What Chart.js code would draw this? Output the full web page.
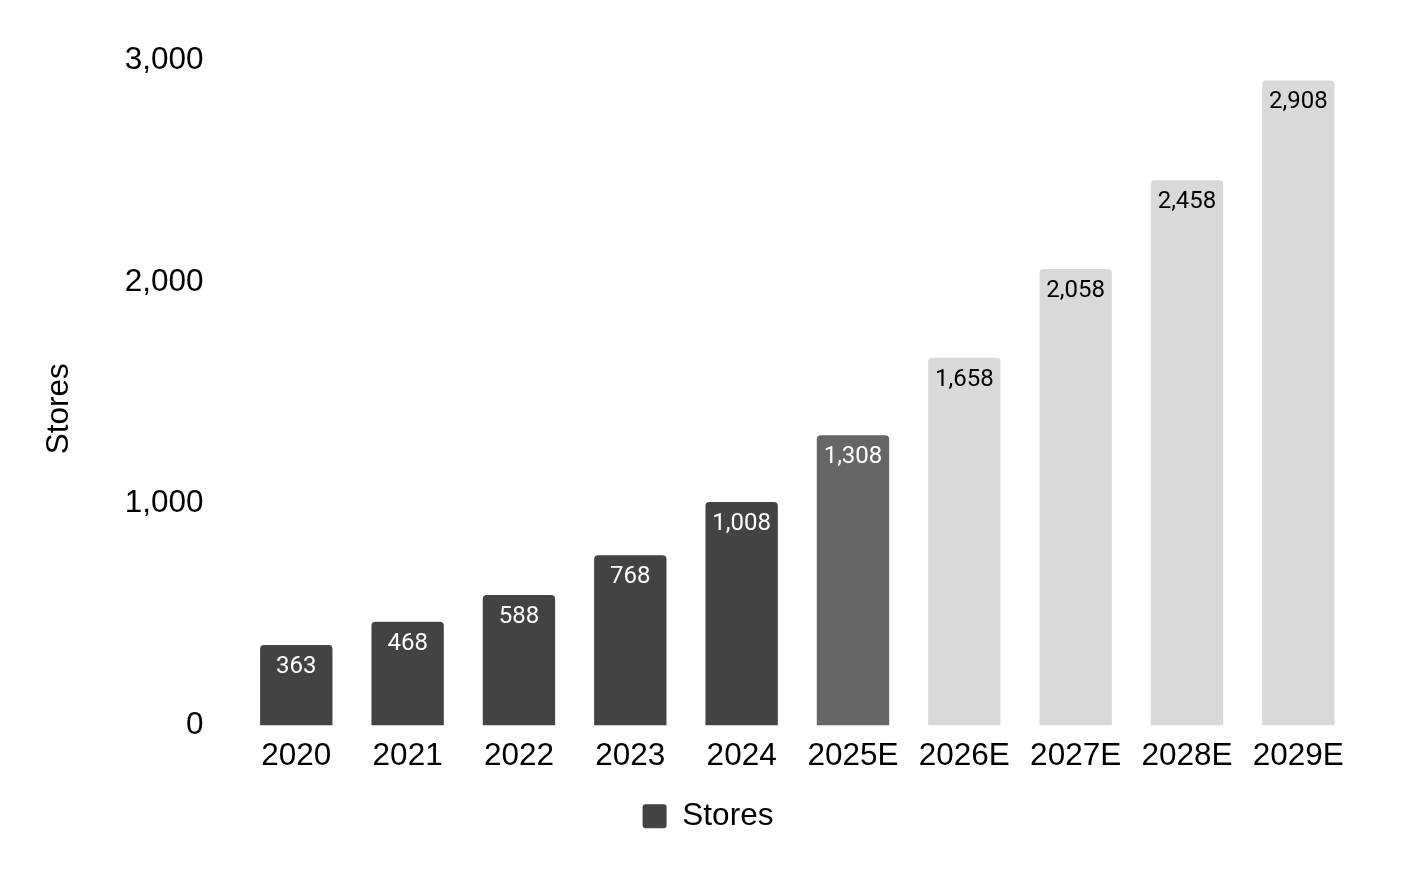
<!DOCTYPE html>
<html>
<head>
<meta charset="utf-8">
<script src="https://cdn.jsdelivr.net/npm/chart.js@4.4.1/dist/chart.umd.min.js"></script>
<style>
  html, body { margin: 0; padding: 0; background: #fff; }
  #wrap { width: 1418px; height: 876px; }
</style>
</head>
<body>
<div id="wrap"><canvas id="storesChart" width="1418" height="876"></canvas></div>
<script>
// Data
const years = ['2020', '2021', '2022', '2023', '2024', '2025E', '2026E', '2027E', '2028E', '2029E'];
const stores = [363, 468, 588, 768, 1008, 1308, 1658, 2058, 2458, 2908];
const yTicks = [0, 1000, 2000, 3000];
const yTitle = 'Stores';

// actual / current-year estimate / forecast
const barColors = years.map(function(y, i) {
    if (i < 5) return '#434343';
    if (i === 5) return '#666666';
    return '#d9d9d9';
});
const labelColors = years.map(function(y, i) { return i < 6 ? '#ffffff' : '#000000'; });

const fmt = new Intl.NumberFormat('en-US');

// simple value labels inside the top of each bar
const barLabels = {
    id: 'barLabels',
    afterDatasetsDraw(chart) {
        const ctx = chart.ctx;
        const meta = chart.getDatasetMeta(0);
        ctx.save();
        ctx.font = '24px Roboto';
        ctx.textAlign = 'center';
        ctx.textBaseline = 'middle';
        meta.data.forEach(function(bar, i) {
            ctx.fillStyle = labelColors[i];
            ctx.fillText(fmt.format(stores[i]), bar.x, bar.y + 22);
        });
        ctx.restore();
    }
};

// legend sits centred under the plot area, not the whole canvas
const legendShift = {
    id: 'legendShift',
    afterLayout(chart) {
        const lg = chart.legend;
        if (!lg) return;
        lg.left += 11;
        lg.right += 11;
    }
};

// y title is drawn a bit below the axis middle, like the original
const yTitleDraw = {
    id: 'yTitleDraw',
    afterDraw(chart) {
        const ctx = chart.ctx;
        const area = chart.chartArea;
        const ys = chart.scales.y;
        ctx.save();
        ctx.translate(ys.left + 19, (area.top + area.bottom) / 2 + 16);
        ctx.rotate(-Math.PI / 2);
        ctx.font = "31.5px 'Liberation Sans', Arial, sans-serif";
        ctx.fillStyle = '#000';
        ctx.textAlign = 'center';
        ctx.textBaseline = 'middle';
        ctx.fillText(yTitle, 0, 0);
        ctx.restore();
    }
};

Chart.defaults.font.family = "'Liberation Sans', Arial, sans-serif";
Chart.defaults.color = '#000';

new Chart(document.getElementById('storesChart'), {
    type: 'bar',
    data: {
        labels: years,
        datasets: [{
            label: 'Stores',
            data: stores,
            backgroundColor: barColors,
            borderRadius: 4,
            borderSkipped: 'bottom',
            barPercentage: 0.65,
            categoryPercentage: 1
        }]
    },
    options: {
        responsive: false,
        animation: false,
        layout: { padding: { top: 60, right: 64, bottom: 34, left: 40 } },
        plugins: {
            tooltip: { enabled: false },
            legend: {
                position: 'bottom',
                labels: {
                    font: { size: 31.5 },
                    boxWidth: 24,
                    boxHeight: 24,
                    useBorderRadius: true,
                    borderRadius: 3,
                    padding: 10
                }
            }
        },
        scales: {
            x: {
                grid: { display: false },
                border: { display: false },
                ticks: { font: { size: 31.5 }, padding: 4, maxRotation: 0 },
                afterFit: function(scale) { scale.height = 65; }
            },
            y: {
                min: 0,
                max: 3000,
                afterBuildTicks: function(scale) {
                    scale.ticks = yTicks.map(function(v) { return { value: v }; });
                },
                grid: { display: false },
                border: { display: false },
                ticks: {
                    font: { size: 31.5 },
                    padding: 29,
                    callback: function(v) { return fmt.format(v); }
                },
                // keeps the space for the title; the text itself is drawn by yTitleDraw
                title: {
                    display: true,
                    text: yTitle,
                    color: 'rgba(0,0,0,0)',
                    font: { size: 31.5 },
                    padding: { top: 0, bottom: 18 }
                }
            }
        }
    },
    plugins: [barLabels, legendShift, yTitleDraw]
});
</script>
</body>
</html>
